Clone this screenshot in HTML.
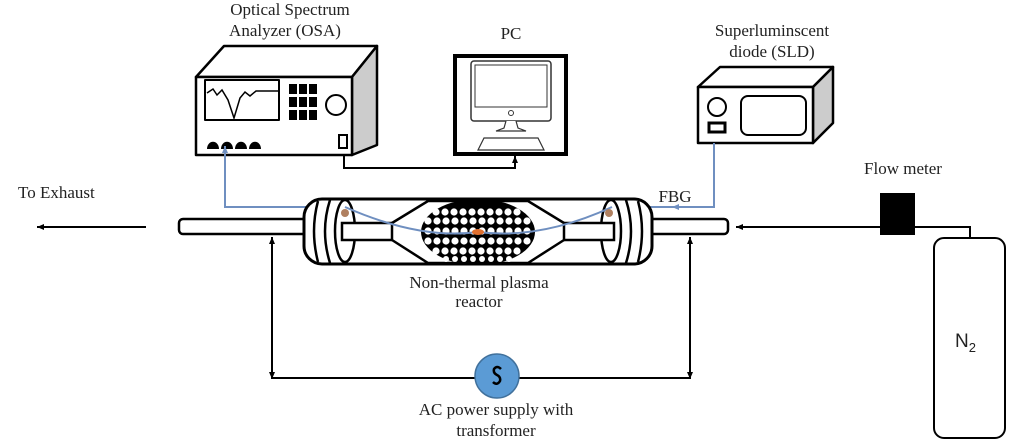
<!DOCTYPE html>
<html><head><style>body{margin:0;background:#fff}svg{display:block}text{font-family:"Liberation Serif",serif;fill:#222}</style></head>
<body>
<svg width="1018" height="443" viewBox="0 0 1018 443" xmlns="http://www.w3.org/2000/svg">
<defs>
<marker id="ah" markerWidth="8" markerHeight="8" refX="7" refY="4" orient="auto" markerUnits="userSpaceOnUse"><path d="M0,1 L7,4 L0,7 Z" fill="#000"/></marker>
<marker id="bh" markerWidth="8" markerHeight="8" refX="7" refY="4" orient="auto" markerUnits="userSpaceOnUse"><path d="M0,1 L7,4 L0,7 Z" fill="#6f8fc0"/></marker>
</defs>
<!-- labels -->
<text x="290" y="15" font-size="17" text-anchor="middle">Optical Spectrum</text>
<text x="285" y="36" font-size="17" text-anchor="middle">Analyzer (OSA)</text>
<text x="511" y="39" font-size="17" text-anchor="middle">PC</text>
<text x="772" y="36" font-size="17" text-anchor="middle">Superluminscent</text>
<text x="772" y="57" font-size="17" text-anchor="middle">diode (SLD)</text>
<text x="18" y="198" font-size="17">To Exhaust</text>
<text x="903" y="174" font-size="17" text-anchor="middle">Flow meter</text>
<text x="675" y="202" font-size="17" text-anchor="middle">FBG</text>
<text x="479" y="288" font-size="17" text-anchor="middle">Non-thermal plasma</text>
<text x="479" y="307" font-size="17" text-anchor="middle">reactor</text>
<text x="496" y="415" font-size="17" text-anchor="middle">AC power supply with</text>
<text x="496" y="436" font-size="17" text-anchor="middle">transformer</text>

<!-- OSA -->
<g stroke="#000" stroke-width="2.5" stroke-linejoin="round">
<path d="M196,77 L224,46 L377,46 L352,77 Z" fill="#fff"/>
<path d="M352,77 L377,46 L377,145 L352,155 Z" fill="#ccc"/>
<rect x="196" y="77" width="156" height="78" fill="#fff"/>
<rect x="205" y="80" width="74" height="40" fill="#fff" stroke-width="2"/>
</g>
<path d="M207,93 L213,89 L217,95 L222,90 L228,100 L234,118 L240,98 L245,92 L250,96 L256,91 L278,91" fill="none" stroke="#000" stroke-width="1.5"/>
<g fill="#000">
<rect x="289" y="84" width="8" height="10"/><rect x="299" y="84" width="8" height="10"/><rect x="309" y="84" width="8" height="10"/>
<rect x="289" y="97" width="8" height="10"/><rect x="299" y="97" width="8" height="10"/><rect x="309" y="97" width="8" height="10"/>
<rect x="289" y="110" width="8" height="10"/><rect x="299" y="110" width="8" height="10"/><rect x="309" y="110" width="8" height="10"/>
<path d="M207,149 a5,6 0 0 1 12,0 Z M221,149 a5,6 0 0 1 12,0 Z M235,149 a5,6 0 0 1 12,0 Z M249,149 a5,6 0 0 1 12,0 Z"/>
</g>
<circle cx="336" cy="105" r="10" fill="#fff" stroke="#000" stroke-width="2"/>
<rect x="339" y="135" width="8" height="13" fill="#fff" stroke="#000" stroke-width="2"/>

<!-- PC -->
<rect x="455" y="56" width="111" height="98" fill="#fff" stroke="#000" stroke-width="4"/>
<rect x="471" y="61" width="80" height="60" rx="3" fill="#fff" stroke="#333" stroke-width="1.5"/>
<rect x="475" y="65" width="72" height="42" fill="#fff" stroke="#333" stroke-width="1"/>
<circle cx="511" cy="113" r="2.5" fill="none" stroke="#333"/>
<path d="M506,121 L504,128 L496,131 L526,131 L518,128 L516,121" fill="#fff" stroke="#333" stroke-width="1.2"/>
<path d="M478,150 L484,138 L538,138 L544,150 Z" fill="#fff" stroke="#333" stroke-width="1.2"/>

<!-- SLD -->
<g stroke="#000" stroke-width="2.5" stroke-linejoin="round">
<path d="M698,87 L720,67 L833,67 L813,87 Z" fill="#fff"/>
<path d="M813,87 L833,67 L833,123 L813,143 Z" fill="#ccc"/>
<rect x="698" y="87" width="115" height="56" fill="#fff"/>
<circle cx="717" cy="107" r="9" fill="#fff" stroke-width="2"/>
<rect x="741" y="96" width="65" height="39" rx="7" fill="#fff" stroke-width="2"/>
</g>
<rect x="709" y="123" width="16" height="9" fill="#fff" stroke="#000" stroke-width="3"/>

<!-- OSA->PC line -->
<path d="M344,155 L344,168 L515,168 L515,156" fill="none" stroke="#000" stroke-width="2" marker-end="url(#ah)"/>

<!-- blue fiber -->
<path d="M714,143 L714,207 L612,207" fill="none" stroke="#6f8fc0" stroke-width="2"/>
<path d="M690,207 L672,207" fill="none" stroke="#6f8fc0" stroke-width="2" marker-end="url(#bh)"/>
<path d="M345,207 L225,207 L225,146" fill="none" stroke="#6f8fc0" stroke-width="2" marker-end="url(#bh)"/>

<!-- tubes -->
<rect x="179" y="219" width="130" height="15" rx="4" fill="#fff" stroke="#000" stroke-width="2.5"/>
<rect x="648" y="219" width="80" height="15" rx="4" fill="#fff" stroke="#000" stroke-width="2.5"/>
<!-- reactor body -->
<rect x="304" y="199" width="348" height="65" rx="18" fill="#fff" stroke="#000" stroke-width="3"/>
<g fill="none" stroke="#000" stroke-width="2.5">
<path d="M318,201 Q310,231 318,262"/><path d="M330,200 Q320,231 330,263"/>
<ellipse cx="345" cy="231" rx="10" ry="31"/>
<path d="M638,201 Q646,231 638,262"/><path d="M626,200 Q636,231 626,263"/>
<ellipse cx="611" cy="231" rx="10" ry="31"/>
</g>
<rect x="342" y="223" width="272" height="17" fill="#fff" stroke="#000" stroke-width="2.5"/>
<path d="M392,223 L428,201 L528,201 L564,223 L564,240 L528,263 L428,263 L392,240 Z" fill="#fff" stroke="#000" stroke-width="2.5"/>
<ellipse cx="478" cy="232" rx="57" ry="33" fill="#000"/>
<g fill="#fff">
<circle cx="436" cy="212" r="3.6"/><circle cx="445" cy="212" r="3.6"/><circle cx="454" cy="212" r="3.6"/><circle cx="463" cy="212" r="3.6"/><circle cx="472" cy="212" r="3.6"/><circle cx="481" cy="212" r="3.6"/><circle cx="490" cy="212" r="3.6"/><circle cx="499" cy="212" r="3.6"/><circle cx="508" cy="212" r="3.6"/><circle cx="517" cy="212" r="3.6"/>
<circle cx="428" cy="221" r="3.6"/><circle cx="437" cy="221" r="3.6"/><circle cx="446" cy="221" r="3.6"/><circle cx="455" cy="221" r="3.6"/><circle cx="464" cy="221" r="3.6"/><circle cx="473" cy="221" r="3.6"/><circle cx="482" cy="221" r="3.6"/><circle cx="491" cy="221" r="3.6"/><circle cx="500" cy="221" r="3.6"/><circle cx="509" cy="221" r="3.6"/><circle cx="518" cy="221" r="3.6"/><circle cx="527" cy="221" r="3.6"/>
<circle cx="428" cy="231" r="3.6"/><circle cx="437" cy="231" r="3.6"/><circle cx="446" cy="231" r="3.6"/><circle cx="455" cy="231" r="3.6"/><circle cx="464" cy="231" r="3.6"/><circle cx="473" cy="231" r="3.6"/><circle cx="482" cy="231" r="3.6"/><circle cx="491" cy="231" r="3.6"/><circle cx="500" cy="231" r="3.6"/><circle cx="509" cy="231" r="3.6"/><circle cx="518" cy="231" r="3.6"/><circle cx="527" cy="231" r="3.6"/>
<circle cx="428" cy="241" r="3.6"/><circle cx="437" cy="241" r="3.6"/><circle cx="446" cy="241" r="3.6"/><circle cx="455" cy="241" r="3.6"/><circle cx="464" cy="241" r="3.6"/><circle cx="473" cy="241" r="3.6"/><circle cx="482" cy="241" r="3.6"/><circle cx="491" cy="241" r="3.6"/><circle cx="500" cy="241" r="3.6"/><circle cx="509" cy="241" r="3.6"/><circle cx="518" cy="241" r="3.6"/><circle cx="527" cy="241" r="3.6"/>
<circle cx="436" cy="251" r="3.6"/><circle cx="445" cy="251" r="3.6"/><circle cx="454" cy="251" r="3.6"/><circle cx="463" cy="251" r="3.6"/><circle cx="472" cy="251" r="3.6"/><circle cx="481" cy="251" r="3.6"/><circle cx="490" cy="251" r="3.6"/><circle cx="499" cy="251" r="3.6"/><circle cx="508" cy="251" r="3.6"/><circle cx="517" cy="251" r="3.6"/>
<circle cx="446" cy="259" r="3"/><circle cx="455" cy="259" r="3"/><circle cx="464" cy="259" r="3"/><circle cx="473" cy="259" r="3"/><circle cx="482" cy="259" r="3"/><circle cx="491" cy="259" r="3"/><circle cx="500" cy="259" r="3"/><circle cx="509" cy="259" r="3"/>
</g>
<!-- fiber through reactor -->
<path d="M345,207 Q420,240 478,232 Q540,240 612,207" fill="none" stroke="#6f8fc0" stroke-width="2"/>
<circle cx="345" cy="213" r="4" fill="#b08060"/><circle cx="609" cy="213" r="4" fill="#b08060"/>
<ellipse cx="478" cy="232" rx="6" ry="3" fill="#e07030"/>

<!-- exhaust arrow -->
<line x1="146" y1="227" x2="37" y2="227" stroke="#000" stroke-width="2" marker-end="url(#ah)"/>
<!-- gas line -->
<path d="M970,240 L970,227 L736,227" fill="none" stroke="#000" stroke-width="2" marker-end="url(#ah)"/>
<rect x="880" y="193" width="35" height="42" fill="#000"/>
<rect x="934" y="238" width="71" height="200" rx="10" fill="#fff" stroke="#000" stroke-width="2"/>
<text x="955" y="347" font-size="19" style="font-family:'Liberation Sans',sans-serif">N<tspan font-size="13" dy="5">2</tspan></text>

<!-- power circuit -->
<path d="M272,378 L690,378" stroke="#000" stroke-width="2"/>
<line x1="272" y1="300" x2="272" y2="237" stroke="#000" stroke-width="2" marker-end="url(#ah)"/>
<line x1="272" y1="300" x2="272" y2="379" stroke="#000" stroke-width="2" marker-end="url(#ah)"/>
<line x1="690" y1="300" x2="690" y2="237" stroke="#000" stroke-width="2" marker-end="url(#ah)"/>
<line x1="690" y1="300" x2="690" y2="379" stroke="#000" stroke-width="2" marker-end="url(#ah)"/>
<circle cx="497" cy="376" r="22" fill="#5b9bd5" stroke="#41719c" stroke-width="1.5"/>
<path d="M501,369 Q497,365 494,369 Q493,373 497,375 Q501,377 500,381 Q497,386 493,382" fill="none" stroke="#000" stroke-width="2.5"/>
</svg>
</body></html>
